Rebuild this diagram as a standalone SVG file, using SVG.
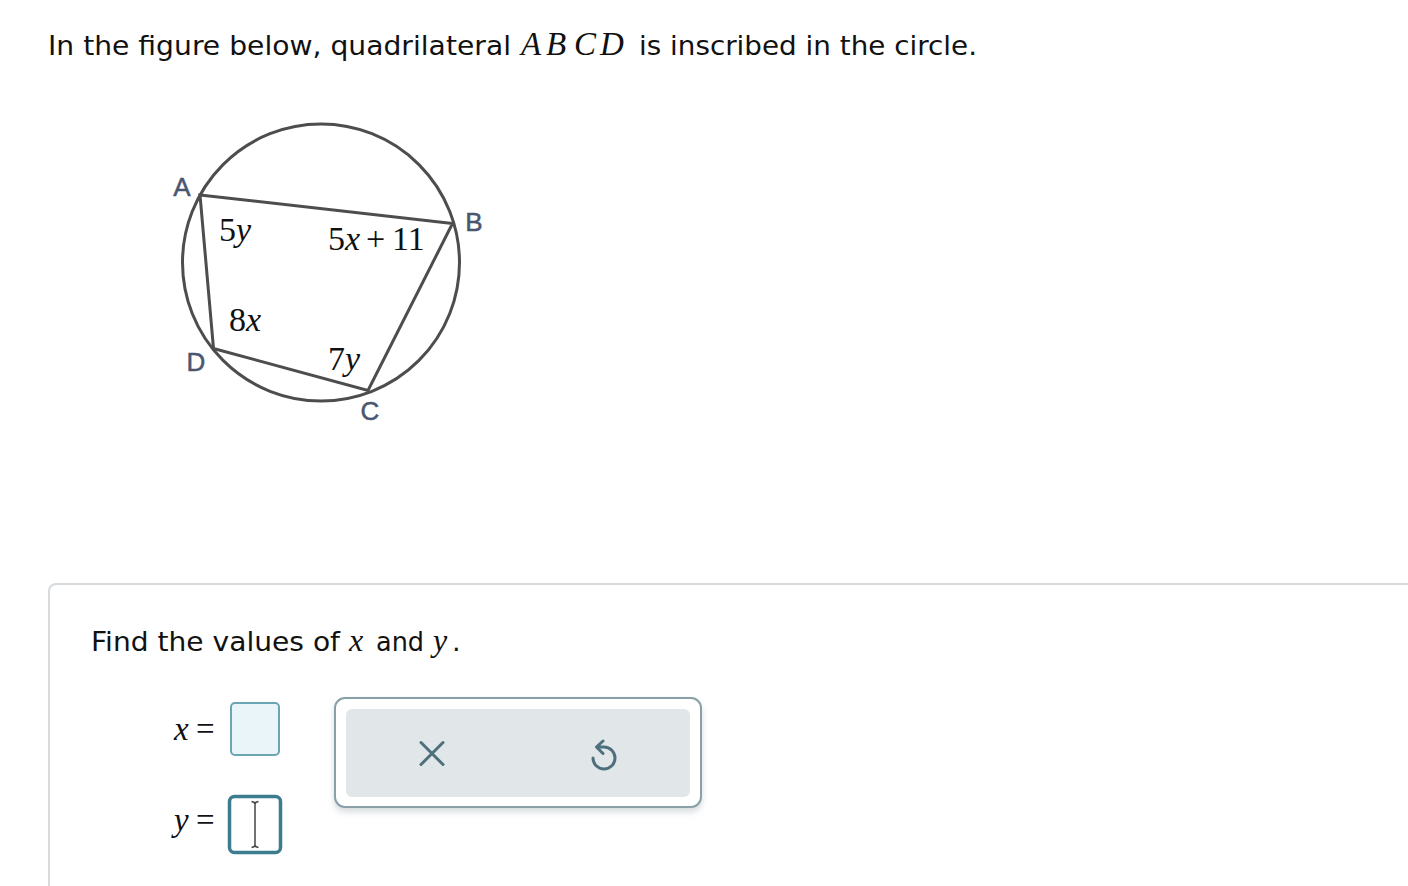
<svg xmlns="http://www.w3.org/2000/svg" width="1408" height="886" viewBox="0 0 1408 886">
  <defs>
    <style>
      .sans { font-family: "DejaVu Sans", Verdana, sans-serif; font-size: 27px; fill: #111; }
      .math { font-family: "Liberation Serif", "Times New Roman", serif; font-style: italic; fill: #111; }
      .num { font-style: normal; }
      .vlabel { font-family: "Liberation Sans", Arial, sans-serif; font-size: 26px; fill: #4a5670; stroke: #4a5670; stroke-width: 0.5; text-anchor: middle; }
      .geo { fill: none; stroke: #4d4d4d; stroke-width: 3; }
      .icon { fill: none; stroke: #4e6f7c; stroke-width: 3; stroke-linecap: round; stroke-linejoin: round; }
    </style>
    <filter id="shadow" x="-10%" y="-20%" width="120%" height="150%">
      <feDropShadow dx="0" dy="4" stdDeviation="3" flood-color="#8a9aa2" flood-opacity="0.35"/>
    </filter>
  </defs>
  <rect width="1408" height="886" fill="#fff"/>

  <g id="title">
    <text class="sans" x="48" y="55" textLength="463" lengthAdjust="spacingAndGlyphs">In the figure below, quadrilateral</text>
    <text class="math" y="55" font-size="33"><tspan x="521">A</tspan><tspan x="546">B</tspan><tspan x="574">C</tspan><tspan x="600">D</tspan></text>
    <text class="sans" x="639" y="55" textLength="338" lengthAdjust="spacingAndGlyphs">is inscribed in the circle.</text>
  </g>

  <g id="figure">
    <circle class="geo" cx="321" cy="262.5" r="138.5"/>
    <polygon class="geo" points="200,195 452.5,223.5 368,390.5 213.5,348.5"/>
    <text class="vlabel" x="182" y="196">A</text>
    <text class="vlabel" x="474" y="231">B</text>
    <text class="vlabel" x="370" y="420">C</text>
    <text class="vlabel" x="196" y="371">D</text>
    <text class="math" font-size="34" y="241"><tspan class="num" x="219">5</tspan><tspan x="236">y</tspan></text>
    <text class="math" font-size="34" y="250"><tspan class="num" x="328">5</tspan><tspan x="345">x</tspan><tspan class="num" x="366">+</tspan><tspan class="num" x="392">11</tspan></text>
    <text class="math" font-size="34" y="331"><tspan class="num" x="229">8</tspan><tspan x="246">x</tspan></text>
    <text class="math" font-size="34" y="370"><tspan class="num" x="328">7</tspan><tspan x="345">y</tspan></text>
  </g>

  <g id="panel">
    <rect x="49" y="584" width="1400" height="420" rx="7" fill="#fff" stroke="#d5dbdf" stroke-width="2"/>
    <text class="sans" x="91" y="651" textLength="249" lengthAdjust="spacingAndGlyphs">Find the values of</text>
    <text class="math" font-size="32" x="349" y="651">x</text>
    <text class="sans" x="376" y="651" textLength="48" lengthAdjust="spacingAndGlyphs">and</text>
    <text class="math" font-size="32" x="433" y="651">y</text>
    <text class="sans" x="452" y="651">.</text>
  </g>

  <g id="input-x">
    <text class="math" font-size="33" y="740"><tspan x="174">x</tspan><tspan class="num" x="196">=</tspan></text>
    <rect x="231" y="703" width="48" height="52" rx="4" fill="#eaf5fa" stroke="#6ba4b2" stroke-width="2"/>
  </g>

  <g id="input-y">
    <text class="math" font-size="33" y="831"><tspan x="174">y</tspan><tspan class="num" x="196">=</tspan></text>
    <rect x="229.5" y="796.5" width="51" height="56" rx="5" fill="#fff" stroke="#3b7c8e" stroke-width="3.5"/>
    <path d="M255 803 V846 M251.5 801.5 Q255 802 255 804 Q255 802 258.5 801.5 M251.5 847.5 Q255 847 255 845 Q255 847 258.5 847.5" fill="none" stroke="#444" stroke-width="1.5"/>
  </g>

  <g id="buttons">
    <rect x="335" y="698" width="366" height="109" rx="10" fill="#fff" stroke="#8aa0a8" stroke-width="2" filter="url(#shadow)"/>
    <rect x="346" y="709" width="344" height="88" rx="6" fill="#e1e6e9"/>
    <path class="icon" d="M421 742.5 L443 764.5 M443 742.5 L421 764.5"/>
    <path class="icon" d="M603 741 L596.5 747 L603 753.5 M597 747 H604 A11 11 0 1 1 593 758"/>
  </g>
</svg>
